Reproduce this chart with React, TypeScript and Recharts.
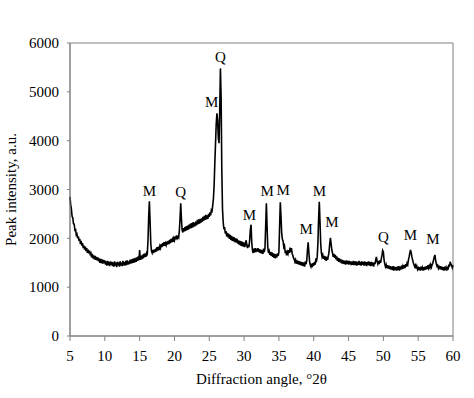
import {
  LineChart,
  Line,
  XAxis,
  YAxis,
  ReferenceArea,
  ReferenceDot,
} from "recharts";

// diffraction pattern, one value per 0.1 °2θ from 5.0 to 60.0
const startAngle = 5;
const stepAngle = 0.1;
const intensity = [
  2850, 2690, 2600, 2450, 2420, 2300, 2290, 2170, 2180, 2070, // 5
  2090, 2000, 2040, 1950, 1990, 1880, 1950, 1850, 1900, 1800, // 6
  1850, 1770, 1830, 1740, 1800, 1700, 1770, 1690, 1750, 1680, // 7
  1700, 1610, 1680, 1590, 1650, 1570, 1640, 1560, 1620, 1550, // 8
  1610, 1530, 1590, 1500, 1580, 1490, 1570, 1480, 1560, 1490, // 9
  1550, 1460, 1530, 1440, 1540, 1450, 1520, 1430, 1530, 1460, // 10
  1520, 1430, 1510, 1420, 1530, 1440, 1500, 1410, 1520, 1450, // 11
  1510, 1420, 1530, 1440, 1500, 1430, 1540, 1450, 1510, 1440, // 12
  1540, 1450, 1550, 1460, 1530, 1470, 1560, 1480, 1570, 1490, // 13
  1580, 1500, 1590, 1510, 1600, 1520, 1610, 1540, 1630, 1550, // 14
  1760, 1560, 1640, 1570, 1660, 1590, 1680, 1610, 1690, 1620, // 15
  1700, 1680, 1950, 2450, 2760, 2350, 1900, 1740, 1700, 1760, // 16
  1700, 1770, 1720, 1790, 1730, 1820, 1750, 1830, 1760, 1840, // 17
  1800, 1880, 1820, 1900, 1840, 1920, 1850, 1900, 1860, 1930, // 18
  1870, 1950, 1880, 1970, 1900, 1990, 1920, 1980, 1930, 2000, // 19
  1960, 2040, 1980, 2060, 2000, 2030, 2010, 2150, 2400, 2720, // 20
  2400, 2180, 2120, 2210, 2140, 2230, 2150, 2250, 2170, 2260, // 21
  2180, 2280, 2200, 2300, 2210, 2310, 2220, 2330, 2240, 2320, // 22
  2250, 2350, 2270, 2380, 2290, 2390, 2300, 2400, 2320, 2410, // 23
  2340, 2440, 2360, 2460, 2380, 2480, 2390, 2470, 2400, 2500, // 24
  2440, 2530, 2470, 2580, 2560, 2680, 2820, 3100, 3550, 3950, // 25
  4350, 4560, 4420, 4050, 3950, 4600, 5480, 4900, 3400, 2600, // 26
  2330, 2190, 2230, 2100, 2150, 2040, 2110, 2020, 2090, 1990, // 27
  2070, 1970, 2050, 1950, 2030, 1940, 2020, 1920, 2000, 1910, // 28
  1990, 1890, 1960, 1870, 1950, 1850, 1940, 1840, 1930, 1830, // 29
  1910, 1820, 1900, 1960, 1850, 1800, 1870, 1820, 1960, 2180, // 30
  2280, 1920, 1760, 1700, 1790, 1710, 1800, 1720, 1790, 1730, // 31
  1800, 1720, 1780, 1700, 1770, 1690, 1760, 1680, 1790, 1720, // 32
  1800, 2250, 2720, 2250, 1820, 1700, 1740, 1660, 1720, 1640, // 33
  1710, 1620, 1690, 1600, 1680, 1590, 1670, 1610, 1690, 1640, // 34
  1720, 2250, 2740, 2450, 2100, 1980, 1940, 1820, 1850, 1720, // 35
  1730, 1650, 1720, 1680, 1760, 1700, 1810, 1720, 1800, 1690, // 36
  1650, 1600, 1570, 1520, 1560, 1480, 1550, 1470, 1540, 1460, // 37
  1530, 1450, 1520, 1440, 1510, 1430, 1500, 1420, 1530, 1470, // 38
  1550, 1760, 1920, 1720, 1530, 1460, 1420, 1480, 1410, 1490, // 39
  1440, 1520, 1460, 1560, 1540, 1620, 1900, 2400, 2750, 2350, // 40
  1900, 1700, 1620, 1660, 1580, 1640, 1560, 1630, 1540, 1620, // 41
  1560, 1640, 1720, 1900, 2010, 1880, 1760, 1700, 1620, 1680, // 42
  1600, 1660, 1570, 1630, 1540, 1600, 1520, 1590, 1510, 1570, // 43
  1490, 1560, 1480, 1550, 1470, 1540, 1460, 1550, 1480, 1540, // 44
  1460, 1540, 1470, 1530, 1450, 1520, 1460, 1540, 1450, 1530, // 45
  1450, 1530, 1440, 1520, 1460, 1540, 1450, 1520, 1440, 1530, // 46
  1460, 1520, 1440, 1530, 1450, 1510, 1430, 1520, 1450, 1530, // 47
  1440, 1510, 1430, 1520, 1440, 1500, 1420, 1510, 1470, 1560, // 48
  1620, 1530, 1480, 1540, 1470, 1550, 1500, 1580, 1650, 1750, // 49
  1720, 1560, 1480, 1420, 1460, 1390, 1450, 1380, 1440, 1370, // 50
  1430, 1360, 1420, 1350, 1430, 1340, 1420, 1350, 1410, 1340, // 51
  1420, 1350, 1430, 1340, 1420, 1360, 1440, 1370, 1430, 1380, // 52
  1450, 1390, 1470, 1420, 1490, 1460, 1560, 1620, 1700, 1760, // 53
  1700, 1620, 1560, 1500, 1460, 1420, 1450, 1380, 1430, 1370, // 54
  1420, 1350, 1410, 1340, 1420, 1350, 1400, 1340, 1410, 1350, // 55
  1420, 1360, 1430, 1370, 1450, 1390, 1440, 1400, 1460, 1410, // 56
  1460, 1490, 1550, 1620, 1660, 1560, 1480, 1430, 1450, 1390, // 57
  1440, 1370, 1430, 1360, 1420, 1350, 1410, 1340, 1420, 1350, // 58
  1400, 1340, 1420, 1360, 1460, 1420, 1520, 1470, 1450, 1400, // 59
  1450, // 60
];

const xTicks = [5, 10, 15, 20, 25, 30, 35, 40, 45, 50, 55, 60];
const yTicks = [0, 1000, 2000, 3000, 4000, 5000, 6000];

// phase labels above the peaks
const labelAngles = [16.4, 20.9, 25.35, 26.6, 30.75, 33.3, 35.6, 38.9, 40.8, 42.6, 50.0, 53.9, 57.1];
const labelLevels = [2970, 2955, 4790, 5730, 2480, 2970, 2990, 2205, 2970, 2340, 2035, 2085, 2000];
const labelTexts = ["M", "Q", "M", "Q", "M", "M", "M", "M", "M", "M", "Q", "M", "M"];

const data = intensity.map((v, i) => ({
  angle: Math.round((startAngle + i * stepAngle) * 10) / 10,
  value: v,
}));

const serif = "'Liberation Serif', 'Times New Roman', serif";
const gray = "#808080";

export default function App() {
  return (
    <div style={{ position: "absolute", left: 0, top: 0, background: "#fff" }}>
      <LineChart
        width={474}
        height={398}
        data={data}
        margin={{ top: 43, right: 21, left: 0, bottom: 0 }}
      >
        <ReferenceArea
          x1={5}
          x2={60}
          y1={0}
          y2={6000}
          fill="none"
          fillOpacity={0}
          stroke={gray}
          strokeWidth={1}
        />
        <XAxis
          dataKey="angle"
          type="number"
          domain={[5, 60]}
          ticks={xTicks}
          height={62}
          tickSize={5}
          tickMargin={9}
          axisLine={{ stroke: gray }}
          tickLine={{ stroke: gray }}
          tick={{ fill: "#000", fontSize: 15, fontFamily: serif }}
          label={{
            value: "Diffraction angle, °2θ",
            position: "insideBottom",
            offset: 14,
            fill: "#000",
            fontSize: 15,
            fontFamily: serif,
          }}
        />
        <YAxis
          type="number"
          domain={[0, 6000]}
          ticks={yTicks}
          width={70}
          tickSize={3}
          tickMargin={8}
          axisLine={{ stroke: gray }}
          tickLine={{ stroke: gray }}
          tick={{ fill: "#000", fontSize: 15, fontFamily: serif }}
          label={{
            value: "Peak intensity, a.u.",
            angle: -90,
            position: "insideLeft",
            offset: 11,
            fill: "#000",
            fontSize: 15,
            fontFamily: serif,
            style: { textAnchor: "middle" },
          }}
        />
        <Line
          type="linear"
          dataKey="value"
          stroke="#000"
          strokeWidth={1.6}
          dot={false}
          isAnimationActive={false}
        />
        {labelTexts.map((t, i) => (
          <ReferenceDot
            key={i}
            x={labelAngles[i]}
            y={labelLevels[i]}
            r={0}
            fill="none"
            stroke="none"
            label={{
              value: t,
              position: "center",
              fill: "#000",
              fontSize: 15,
              fontFamily: serif,
            }}
          />
        ))}
      </LineChart>
    </div>
  );
}
